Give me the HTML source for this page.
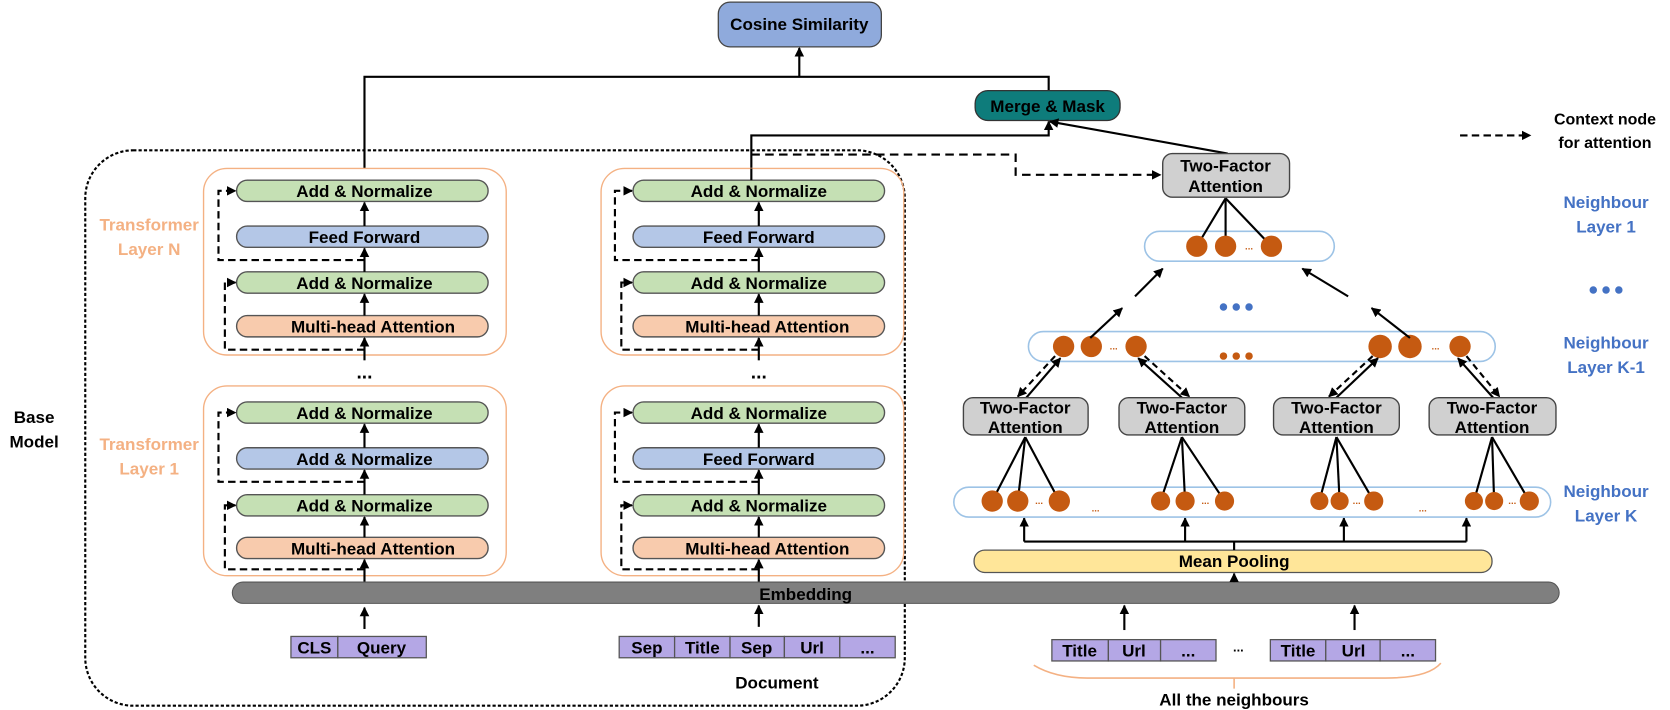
<!DOCTYPE html>
<html><head><meta charset="utf-8"><style>
html,body{margin:0;padding:0;background:#fff;}
svg{display:block;}
text{font-family:"Liberation Sans",sans-serif;font-weight:bold;}
</style></head><body>
<svg width="1670" height="710" viewBox="0 0 1567 666" preserveAspectRatio="none" xmlns="http://www.w3.org/2000/svg">
<defs>
<marker id="a" viewBox="0 0 10 10" refX="9" refY="5" markerWidth="9" markerHeight="9" markerUnits="userSpaceOnUse" orient="auto"><path d="M0,0L10,5L0,10z" fill="#000"/></marker>
</defs>
<rect x="80" y="141" width="769" height="521" rx="45" fill="none" stroke="#000" stroke-width="2" stroke-dasharray="3,2"/>
<text x="32" y="397" font-size="16" text-anchor="middle">Base</text>
<text x="32" y="420" font-size="16" text-anchor="middle">Model</text>
<g fill="#f4b183" font-size="16" text-anchor="middle">
<text x="140" y="216">Transformer</text><text x="140" y="239">Layer N</text>
<text x="140" y="422">Transformer</text><text x="140" y="445">Layer 1</text>
</g>

<rect x="674" y="2" width="153" height="42" rx="11" fill="#8faadc" stroke="#444" stroke-width="1.2"/>
<text x="750" y="28" font-size="16" text-anchor="middle">Cosine Similarity</text>
<polyline points="342,158 342,72 984,72 984,85" fill="none" stroke="#000" stroke-width="2"/>
<line x1="750" y1="72" x2="750" y2="45" stroke="#000" stroke-width="2" marker-end="url(#a)"/>
<rect x="915" y="85" width="136" height="28" rx="12" fill="#0e7c7b" stroke="#333" stroke-width="1.2"/>
<text x="983" y="105" font-size="16" text-anchor="middle">Merge &amp; Mask</text>
<polyline points="705,158 705,127 984,127 984,114" fill="none" stroke="#000" stroke-width="2" marker-end="url(#a)"/>
<polyline points="705,145 953,145 953,164 1089,164" fill="none" stroke="#000" stroke-width="2" stroke-dasharray="8,5" marker-end="url(#a)"/>
<line x1="1152" y1="144" x2="985" y2="114" stroke="#000" stroke-width="2" marker-end="url(#a)"/>

<line x1="1370" y1="127" x2="1436" y2="127" stroke="#000" stroke-width="2" stroke-dasharray="7,4" marker-end="url(#a)"/>
<text x="1506" y="117" font-size="15" text-anchor="middle">Context node</text>
<text x="1506" y="139" font-size="15" text-anchor="middle">for attention</text>
<g fill="#4472c4" font-size="16" text-anchor="middle">
<text x="1507" y="195">Neighbour</text><text x="1507" y="218">Layer 1</text>
<text x="1507" y="327">Neighbour</text><text x="1507" y="350">Layer K-1</text>
<text x="1507" y="466">Neighbour</text><text x="1507" y="489">Layer K</text>
</g>
<g fill="#4472c4"><circle cx="1495" cy="272" r="3.5"/><circle cx="1507" cy="272" r="3.5"/><circle cx="1519" cy="272" r="3.5"/>
<circle cx="1148" cy="288" r="3.5"/><circle cx="1160" cy="288" r="3.5"/><circle cx="1172" cy="288" r="3.5"/></g>

<rect x="191" y="158" width="284" height="175" rx="22" fill="none" stroke="#f4b183" stroke-width="1.3"/>
<rect x="191" y="362" width="284" height="178" rx="22" fill="none" stroke="#f4b183" stroke-width="1.3"/>
<rect x="564" y="158" width="284" height="175" rx="22" fill="none" stroke="#f4b183" stroke-width="1.3"/>
<rect x="564" y="362" width="284" height="178" rx="22" fill="none" stroke="#f4b183" stroke-width="1.3"/>

<g stroke="#555" stroke-width="1.3">
<rect x="222" y="169" width="236" height="20" rx="10" fill="#c5e0b4"/>
<rect x="222" y="212" width="236" height="20" rx="10" fill="#b4c7e7"/>
<rect x="222" y="255" width="236" height="20" rx="10" fill="#c5e0b4"/>
<rect x="222" y="296" width="236" height="20" rx="10" fill="#f8cbad"/>
<rect x="222" y="377" width="236" height="20" rx="10" fill="#c5e0b4"/>
<rect x="222" y="420" width="236" height="20" rx="10" fill="#b4c7e7"/>
<rect x="222" y="464" width="236" height="20" rx="10" fill="#c5e0b4"/>
<rect x="222" y="504" width="236" height="20" rx="10" fill="#f8cbad"/>
<rect x="594" y="169" width="236" height="20" rx="10" fill="#c5e0b4"/>
<rect x="594" y="212" width="236" height="20" rx="10" fill="#b4c7e7"/>
<rect x="594" y="255" width="236" height="20" rx="10" fill="#c5e0b4"/>
<rect x="594" y="296" width="236" height="20" rx="10" fill="#f8cbad"/>
<rect x="594" y="377" width="236" height="20" rx="10" fill="#c5e0b4"/>
<rect x="594" y="420" width="236" height="20" rx="10" fill="#b4c7e7"/>
<rect x="594" y="464" width="236" height="20" rx="10" fill="#c5e0b4"/>
<rect x="594" y="504" width="236" height="20" rx="10" fill="#f8cbad"/>
</g>
<g font-size="16" text-anchor="middle">
<text x="342" y="185">Add &amp; Normalize</text>
<text x="342" y="228">Feed Forward</text>
<text x="342" y="271">Add &amp; Normalize</text>
<text x="350" y="312">Multi-head Attention</text>
<text x="342" y="393">Add &amp; Normalize</text>
<text x="342" y="436">Add &amp; Normalize</text>
<text x="342" y="480">Add &amp; Normalize</text>
<text x="350" y="520">Multi-head Attention</text>
<text x="712" y="185">Add &amp; Normalize</text>
<text x="712" y="228">Feed Forward</text>
<text x="712" y="271">Add &amp; Normalize</text>
<text x="720" y="312">Multi-head Attention</text>
<text x="712" y="393">Add &amp; Normalize</text>
<text x="712" y="436">Feed Forward</text>
<text x="712" y="480">Add &amp; Normalize</text>
<text x="720" y="520">Multi-head Attention</text>
<text x="342" y="355" font-size="18">...</text>
<text x="712" y="355" font-size="18">...</text>
</g>
<g stroke="#000" stroke-width="2" marker-end="url(#a)">
<line x1="342" y1="212" x2="342" y2="190"/><line x1="342" y1="255" x2="342" y2="233"/><line x1="342" y1="296" x2="342" y2="276"/><line x1="342" y1="338" x2="342" y2="317"/>
<line x1="342" y1="420" x2="342" y2="398"/><line x1="342" y1="464" x2="342" y2="441"/><line x1="342" y1="504" x2="342" y2="485"/><line x1="342" y1="547" x2="342" y2="525"/>
<line x1="712" y1="212" x2="712" y2="190"/><line x1="712" y1="255" x2="712" y2="233"/><line x1="712" y1="296" x2="712" y2="276"/><line x1="712" y1="338" x2="712" y2="317"/>
<line x1="712" y1="420" x2="712" y2="398"/><line x1="712" y1="464" x2="712" y2="441"/><line x1="712" y1="504" x2="712" y2="485"/><line x1="712" y1="547" x2="712" y2="525"/>
</g>
<line x1="705" y1="169" x2="705" y2="158" stroke="#000" stroke-width="2"/>
<g fill="none" stroke="#000" stroke-width="2" stroke-dasharray="7,4" marker-end="url(#a)">
<polyline points="342,244 205,244 205,179 221,179"/>
<polyline points="342,328 211,328 211,265 221,265"/>
<polyline points="342,452 205,452 205,387 221,387"/>
<polyline points="342,534 211,534 211,474 221,474"/>
<polyline points="712,244 577,244 577,179 593,179"/>
<polyline points="712,328 583,328 583,265 593,265"/>
<polyline points="712,452 577,452 577,387 593,387"/>
<polyline points="712,534 583,534 583,474 593,474"/>
</g>

<rect x="218" y="546" width="1245" height="20" rx="10" fill="#7f7f7f" stroke="#555"/>
<text x="756" y="563" font-size="16" text-anchor="middle">Embedding</text>
<g stroke="#000" stroke-width="2" marker-end="url(#a)">
<line x1="342" y1="590" x2="342" y2="570"/>
<line x1="712" y1="588" x2="712" y2="568"/>
<line x1="1055" y1="591" x2="1055" y2="568"/>
<line x1="1271" y1="591" x2="1271" y2="568"/>
<line x1="1158" y1="546" x2="1158" y2="538"/>
</g>
<g fill="#b4a7e5" stroke="#555" stroke-width="1.2">
<rect x="273" y="597" width="44" height="20"/><rect x="317" y="597" width="83" height="20"/>
<rect x="581" y="597" width="52" height="20"/><rect x="633" y="597" width="52" height="20"/><rect x="685" y="597" width="51" height="20"/><rect x="736" y="597" width="52" height="20"/><rect x="788" y="597" width="52" height="20"/>
<rect x="987" y="600" width="53" height="20"/><rect x="1040" y="600" width="49" height="20"/><rect x="1089" y="600" width="52" height="20"/>
<rect x="1192" y="600" width="52" height="20"/><rect x="1244" y="600" width="51" height="20"/><rect x="1295" y="600" width="52" height="20"/>
</g>
<g font-size="16" text-anchor="middle">
<text x="295" y="613">CLS</text><text x="358" y="613">Query</text>
<text x="607" y="613">Sep</text><text x="659" y="613">Title</text><text x="710" y="613">Sep</text><text x="762" y="613">Url</text><text x="814" y="613">...</text>
<text x="1013" y="616">Title</text><text x="1064" y="616">Url</text><text x="1115" y="616">...</text>
<text x="1218" y="616">Title</text><text x="1270" y="616">Url</text><text x="1321" y="616">...</text>
<text x="1162" y="611" font-size="12">...</text>
<text x="729" y="646">Document</text>
<text x="1158" y="662">All the neighbours</text>
</g>
<path d="M970,624 Q990,636 1020,636 L1300,636 Q1340,636 1352,622 M1158,636 L1158,646" fill="none" stroke="#f4b183" stroke-width="1.5"/>

<rect x="914" y="516" width="486" height="21" rx="10" fill="#ffe699" stroke="#555" stroke-width="1.2"/>
<text x="1158" y="532" font-size="16" text-anchor="middle">Mean Pooling</text>
<polyline points="1158,516 1158,508" stroke="#000" stroke-width="2" fill="none"/>
<polyline points="961,508 1376,508" stroke="#000" stroke-width="2" fill="none"/>
<g stroke="#000" stroke-width="2" marker-end="url(#a)">
<line x1="961" y1="508" x2="961" y2="486"/><line x1="1112" y1="508" x2="1112" y2="486"/>
<line x1="1261" y1="508" x2="1261" y2="486"/><line x1="1376" y1="508" x2="1376" y2="486"/>
</g>

<g fill="none" stroke="#9dc3e6" stroke-width="1.5">
<rect x="1074" y="217" width="178" height="28" rx="14"/>
<rect x="965" y="311" width="438" height="28" rx="14"/>
<rect x="895" y="457" width="560" height="28" rx="14"/>
</g>
<g stroke="#000" stroke-width="2">
<line x1="931" y1="470" x2="962" y2="410"/><line x1="955" y1="470" x2="962" y2="410"/><line x1="994" y1="470" x2="962" y2="410"/>
<line x1="1089" y1="470" x2="1109" y2="410"/><line x1="1112" y1="470" x2="1109" y2="410"/><line x1="1149" y1="470" x2="1109" y2="410"/>
<line x1="1238" y1="470" x2="1254" y2="410"/><line x1="1257" y1="470" x2="1254" y2="410"/><line x1="1289" y1="470" x2="1254" y2="410"/>
<line x1="1383" y1="470" x2="1400" y2="410"/><line x1="1402" y1="470" x2="1400" y2="410"/><line x1="1435" y1="470" x2="1400" y2="410"/>
<line x1="1123" y1="231" x2="1150" y2="186"/><line x1="1150" y1="231" x2="1150" y2="186"/><line x1="1193" y1="231" x2="1150" y2="186"/>
</g>
<g fill="#c55a11">
<circle cx="1123" cy="231" r="10"/><circle cx="1150" cy="231" r="10"/><circle cx="1193" cy="231" r="10"/>
<circle cx="998" cy="325" r="10"/><circle cx="1024" cy="325" r="10"/><circle cx="1066" cy="325" r="10"/>
<circle cx="1295" cy="325" r="11"/><circle cx="1323" cy="325" r="11"/><circle cx="1370" cy="325" r="10"/>
<circle cx="931" cy="470" r="10"/><circle cx="955" cy="470" r="10"/><circle cx="994" cy="470" r="10"/>
<circle cx="1089" cy="470" r="9"/><circle cx="1112" cy="470" r="9"/><circle cx="1149" cy="470" r="9"/>
<circle cx="1238" cy="470" r="8.5"/><circle cx="1257" cy="470" r="8.5"/><circle cx="1289" cy="470" r="9"/>
<circle cx="1383" cy="470" r="8.5"/><circle cx="1402" cy="470" r="8.5"/><circle cx="1435" cy="470" r="9"/>
<circle cx="1148" cy="334" r="3.5"/><circle cx="1160" cy="334" r="3.5"/><circle cx="1172" cy="334" r="3.5"/>
</g>
<g fill="#c55a11" font-size="9" text-anchor="middle">
<text x="1172" y="234">...</text><text x="1045" y="328">...</text><text x="1347" y="328">...</text>
<text x="975" y="473">...</text><text x="1131" y="473">...</text><text x="1273" y="473">...</text><text x="1419" y="473">...</text>
<text x="1028" y="480">...</text><text x="1335" y="480">...</text>
</g>
<g stroke="#000" stroke-width="2" marker-end="url(#a)">
<line x1="1023" y1="317" x2="1053" y2="289"/><line x1="1323" y1="317" x2="1287" y2="289"/>
<line x1="1065" y1="278" x2="1091" y2="252"/><line x1="1265" y1="278" x2="1222" y2="252"/>
<line x1="963" y1="373" x2="995" y2="336"/>
<line x1="1109" y1="373" x2="1068" y2="336"/>
<line x1="1254" y1="373" x2="1293" y2="336"/>
<line x1="1401" y1="373" x2="1368" y2="336"/>
</g>
<g stroke="#000" stroke-width="2" stroke-dasharray="6,4" marker-end="url(#a)">
<line x1="990" y1="334" x2="955" y2="372"/>
<line x1="1074" y1="334" x2="1116" y2="372"/>
<line x1="1288" y1="334" x2="1247" y2="372"/>
<line x1="1376" y1="334" x2="1407" y2="372"/>
</g>

<g fill="#d0d0d0" stroke="#444" stroke-width="1.3">
<rect x="1091" y="144" width="119" height="41" rx="9"/>
<rect x="904" y="373" width="117" height="35" rx="9"/>
<rect x="1050" y="373" width="118" height="35" rx="9"/>
<rect x="1195" y="373" width="118" height="35" rx="9"/>
<rect x="1341" y="373" width="119" height="35" rx="9"/>
</g>
<g font-size="16" text-anchor="middle">
<text x="1150" y="161">Two-Factor</text><text x="1150" y="180">Attention</text>
<text x="962" y="388">Two-Factor</text><text x="962" y="406">Attention</text>
<text x="1109" y="388">Two-Factor</text><text x="1109" y="406">Attention</text>
<text x="1254" y="388">Two-Factor</text><text x="1254" y="406">Attention</text>
<text x="1400" y="388">Two-Factor</text><text x="1400" y="406">Attention</text>
</g>
</svg>
</body></html>
